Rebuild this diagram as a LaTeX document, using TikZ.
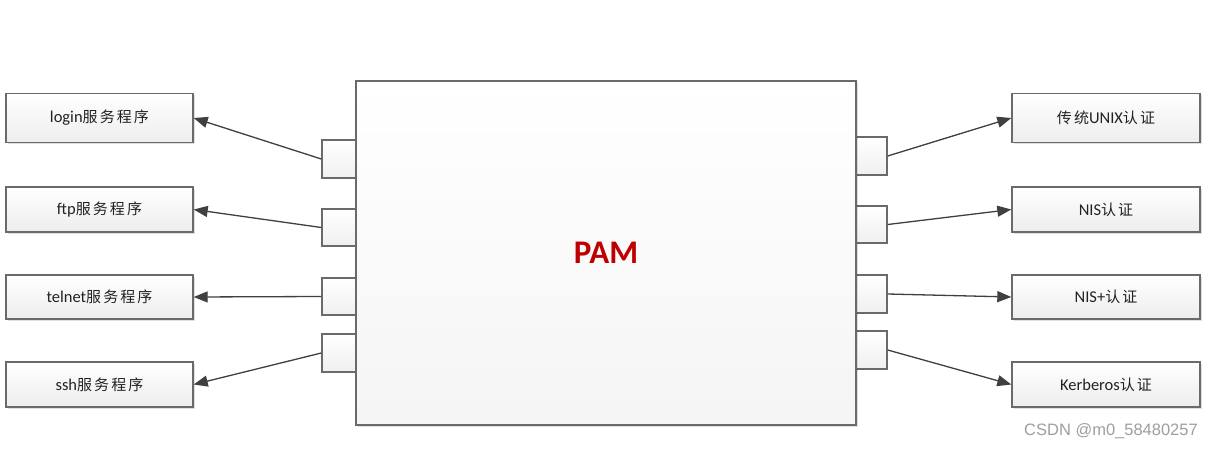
\documentclass[tikz,border=0pt]{standalone}
\usepackage{fontspec}
\setmainfont{Carlito}
\newfontfamily\cjk[LetterSpace=14]{Noto Sans CJK SC}
\usetikzlibrary{arrows.meta,shadows}
\definecolor{bordergray}{HTML}{6A6A6A}
\definecolor{arrowgray}{HTML}{404040}
\definecolor{pamred}{HTML}{C00000}
\definecolor{txtgray}{HTML}{222222}
\tikzset{
  box/.style={draw=bordergray, line width=1.4pt, top color=white, bottom color=gray!14,
    inner sep=0pt, text=txtgray, font=\fontsize{16.5}{18}\selectfont,
    drop shadow={shadow xshift=1.5pt, shadow yshift=-1.5pt, fill=black, opacity=0.12}},
  sidebox/.style={box, minimum width=187pt},
  port/.style={draw=bordergray, line width=1.4pt, top color=white, bottom color=gray!12, inner sep=0pt},
  lport/.style={port, minimum width=34pt},
  rport/.style={port, minimum width=31pt},
  conn/.style={draw=arrowgray, line width=1.3pt, -{Triangle[length=14pt,width=11pt]}}
}
\newcommand{\zhtext}[1]{{\cjk\fontsize{15}{16}\selectfont #1}}
\begin{document}
\begin{tikzpicture}[x=1pt,y=-1pt]
\useasboundingbox[fill=white] (0,0) rectangle (1214,449);
% left ports
\node[lport, minimum height=38pt] (lp1) at (339,159) {};
\node[lport, minimum height=37pt] (lp2) at (339,227.5) {};
\node[lport, minimum height=37pt] (lp3) at (339,296.5) {};
\node[lport, minimum height=38pt] (lp4) at (339,353) {};
% right ports
\node[rport, minimum height=38pt] (rp1) at (871.5,156) {};
\node[rport, minimum height=37pt] (rp2) at (871.5,224.5) {};
\node[rport, minimum height=38pt] (rp3) at (871.5,294) {};
\node[rport, minimum height=38pt] (rp4) at (871.5,350) {};
% PAM
\node[box, minimum width=500pt, minimum height=344pt, top color=white, bottom color=gray!8,
  font=\fontsize{33}{35}\selectfont\bfseries, text=pamred] (pam) at (606,253) {PAM};
% left boxes
\node[sidebox, minimum height=49pt] (lb1) at (99.5,118) {login\zhtext{服务程序}};
\node[sidebox, minimum height=45pt] (lb2) at (99.5,209.5) {ftp\zhtext{服务程序}};
\node[sidebox, minimum height=44pt] (lb3) at (99.5,297) {telnet\zhtext{服务程序}};
\node[sidebox, minimum height=45pt] (lb4) at (99.5,384.5) {ssh\zhtext{服务程序}};
% right boxes
\node[sidebox, minimum width=188pt, minimum height=49pt] (rb1) at (1106,118) {\zhtext{传统}UNIX\zhtext{认证}};
\node[sidebox, minimum width=188pt, minimum height=45pt] (rb2) at (1106,209.5) {NIS\zhtext{认证}};
\node[sidebox, minimum width=188pt, minimum height=44pt] (rb3) at (1106,297) {NIS+\zhtext{认证}};
\node[sidebox, minimum width=188pt, minimum height=45pt] (rb4) at (1106,384.5) {Kerberos\zhtext{认证}};
% connectors
\draw[conn] (lp1.west) -- (lb1.east);
\draw[conn] (lp2.west) -- (lb2.east);
\draw[conn] (lp3.west) -- (lb3.east);
\draw[conn] (lp4.west) -- (lb4.east);
\draw[conn] (rp1.east) -- (rb1.west);
\draw[conn] (rp2.east) -- (rb2.west);
\draw[conn] (rp3.east) -- (rb3.west);
\draw[conn] (rp4.east) -- (rb4.west);
% watermark
\node[anchor=east, inner sep=0pt, text=gray!75, font=\fontspec{Liberation Sans}\fontsize{16.5}{18}\selectfont] (wm) at (1198,431) {CSDN @m0\_58480257};
\end{tikzpicture}
\end{document}
